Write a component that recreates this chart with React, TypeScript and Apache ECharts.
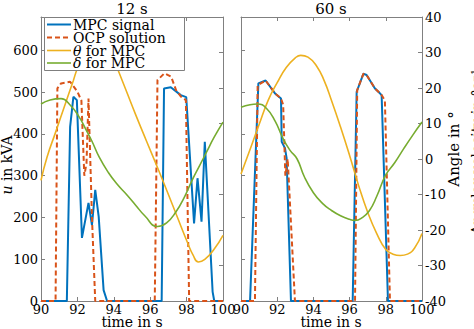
import React, { useEffect, useRef } from 'react';
import * as echarts from 'echarts';

// ---------- data ----------
const panelTitles = ['12 s', '60 s'];
const timeTicks = { min: 90, max: 100, interval: 2 };
const uTicks = { min: 0, max: 680, interval: 100 };
const angleTicks = { min: -40, max: 40, interval: 10 };

// left panel (12 s)
const leftMpcT = [90, 91.42, 91.6, 91.78, 91.97, 92.25, 92.61, 92.8, 92.98, 93.17, 93.44, 93.63, 96.63, 96.76, 97.13, 97.68, 97.98, 98.41, 98.6, 98.82, 99.0, 99.43, 99.52, 100];
const leftMpcU = [0, 0, 417, 489, 481, 151, 235, 182, 266, 202, 26, 0, 0, 509, 512, 493, 488, 186, 294, 190, 381, 22, 0, 0];
const leftOcpT = [90, 90.8, 90.9, 91.1, 91.6, 91.87, 92.0, 92.22, 92.38, 92.5, 92.61, 92.8, 92.98, 96.25, 96.4, 96.78, 97.15, 97.42, 97.7, 97.96, 98.14, 100];
const leftOcpU = [0, 0, 509, 521, 525, 509, 501, 480, 300, 330, 485, 200, 0, 0, 529, 545, 537, 505, 489, 481, 0, 0];
const leftThetaT = [90, 90.33, 90.8, 91.3, 91.77, 92.0, 92.5, 93.1, 93.7, 94.2, 94.7, 95.2, 95.8, 96.4, 97.0, 97.5, 98.07, 98.35, 98.65, 99.0, 99.5, 100];
const leftThetaA = [-6, 0.5, 7.5, 15, 22, 25.5, 31, 34, 32, 25.5, 19, 12.5, 5, -2.4, -10, -16.5, -23.8, -27, -29, -28.3, -25.5, -21.5];
const leftDeltaT = [90, 90.5, 91.1, 91.6, 92.1, 92.5, 92.8, 93.2, 93.7, 94.2, 94.7, 95.2, 95.7, 96.4, 96.9, 97.4, 97.9, 98.3, 98.7, 99.1, 99.5, 100];
const leftDeltaA = [15.5, 16.6, 17, 15.2, 11.8, 8, 5, 0.5, -3.8, -7.2, -10, -13, -16, -19, -18, -15, -10.5, -6, -2, 2, 6, 10.4];

// right panel (60 s)
const rightMpcT = [90, 90.5, 90.96, 91.36, 91.88, 92.21, 92.25, 92.43, 92.52, 92.76, 96.17, 96.39, 96.76, 96.94, 97.4, 97.59, 97.77, 98.12, 100];
const rightMpcU = [0, 0, 521, 528, 497, 485, 381, 366, 342, 0, 0, 501, 544, 541, 509, 501, 493, 0, 0];
const rightOcpT = [90, 90.77, 90.92, 91.36, 91.88, 92.21, 92.33, 92.45, 92.58, 92.98, 96.3, 96.42, 96.76, 96.94, 97.4, 97.59, 97.77, 97.95, 98.23, 100];
const rightOcpU = [0, 0, 517, 528, 497, 485, 470, 300, 340, 0, 0, 505, 544, 541, 509, 501, 493, 480, 0, 0];
const rightThetaT = [90, 90.5, 91.0, 91.5, 92.0, 92.5, 93.0, 93.3, 93.7, 94.2, 94.6, 95.0, 95.5, 96.0, 96.5, 97.0, 97.5, 98.0, 98.4, 98.8, 99.2, 99.6, 100];
const rightThetaA = [-4.2, 2.7, 9.7, 16.5, 21.5, 25.8, 28.5, 29.2, 28.7, 26, 22, 16.5, 9, 1, -7.5, -15, -21, -25.5, -26.8, -27.2, -26.8, -25, -21];
const rightDeltaT = [90, 90.5, 90.9, 91.4, 91.9, 92.3, 92.7, 93.1, 93.5, 94.0, 94.5, 95.0, 95.5, 96.0, 96.3, 96.7, 97.1, 97.5, 98.0, 98.5, 99.0, 99.5, 100];
const rightDeltaA = [14.6, 15.3, 15.5, 14.3, 10.5, 6, 2.5, 0, -5, -9.5, -12.5, -14.5, -16, -17, -17.3, -16.5, -14.5, -10.5, -4.5, -1, 3, 6.8, 10.4];

const seriesNames = ['MPC signal', 'OCP solution', 'θ for MPC', 'δ for MPC'];
const seriesColors = ['#0072BD', '#D95319', '#EDB120', '#77AC30'];

// ---------- helpers ----------
const axisColor = '#808080';
const serif = 'DejaVu Serif';
const tickLabel = { fontFamily: serif, fontSize: 13, color: '#000' };

const pairs = (T: number[], V: number[]) => T.map((t, i) => [t, V[i]]);

function xAxisDef(grid: number, position: string, showLabel: boolean) {
  return {
    type: 'value', gridIndex: grid, position, ...timeTicks,
    axisLine: { show: true, onZero: false, lineStyle: { color: axisColor, width: 1 } },
    axisTick: { show: true, inside: true, length: 4, lineStyle: { color: axisColor } },
    axisLabel: { show: showLabel, margin: 2, ...tickLabel },
    splitLine: { show: false },
  };
}
function yAxisDef(grid: number, position: string, ticks: any, showLabel: boolean) {
  return {
    type: 'value', gridIndex: grid, position, ...ticks,
    axisLine: { show: true, onZero: false, lineStyle: { color: axisColor, width: 1 } },
    axisTick: { show: true, inside: true, length: 4, lineStyle: { color: axisColor } },
    axisLabel: {
      show: showLabel, margin: 3, ...tickLabel,
      formatter: (v: number) => (Math.round(v) % ticks.interval === 0 ? String(v) : ''),
    },
    splitLine: { show: false },
  };
}
function lineSeries(idx: number, xi: number, yi: number, data: number[][], smooth: boolean) {
  const dashed = idx === 1;
  return {
    type: 'line', name: seriesNames[idx], xAxisIndex: xi, yAxisIndex: yi, data,
    symbol: 'none', smooth: smooth ? 0.5 : false, clip: true,
    lineStyle: { color: seriesColors[idx], width: idx < 2 ? 2 : 1.6, type: dashed ? [5, 3] : 'solid' },
    itemStyle: { color: seriesColors[idx] },
    z: 2 + idx,
  };
}

// legend drawn as graphic (box, line samples, labels)
function legendGraphic() {
  const left = 44, top = 17, w = 140, h = 53;
  const rowY = [24.5, 37.5, 50.5, 63];
  const els: any[] = [
    { type: 'rect', z: 100, shape: { x: left + 0.5, y: top + 0.5, width: w, height: h }, style: { fill: '#ffffff', stroke: '#7f7f7f', lineWidth: 1 } },
  ];
  seriesNames.forEach((name, i) => {
    els.push({
      type: 'line', z: 101,
      shape: { x1: 47, y1: rowY[i], x2: 71, y2: rowY[i] },
      style: { stroke: seriesColors[i], lineWidth: i < 2 ? 2 : 1.6, lineDash: i === 1 ? [5, 3] : null },
    });
    const rich = /^(θ|δ)/.test(name);
    els.push({
      type: 'text', z: 101, x: 73, y: rowY[i],
      style: {
        text: rich ? name.replace(/^(θ|δ)/, '{i|$1}') : name,
        font: `14px "${serif}"`, fill: '#000',
        textAlign: 'left', align: 'left', textVerticalAlign: 'middle', verticalAlign: 'middle',
        rich: { i: { fontFamily: serif, fontSize: 14, fontStyle: 'italic' } },
      },
    });
  });
  return els;
}

const centered = { fill: '#000', textAlign: 'center', align: 'center', textVerticalAlign: 'middle', verticalAlign: 'middle' };

export default function App() {
  const ref = useRef<HTMLDivElement>(null);
  useEffect(() => {
    if (!ref.current) return;
    const chart = echarts.init(ref.current, undefined, { renderer: 'svg' });
    const option: any = {
      animation: false,
      backgroundColor: '#ffffff',
      grid: [
        { left: 41, top: 17, width: 182, height: 284 },
        { left: 241, top: 17, width: 181, height: 284 },
      ],
      xAxis: [xAxisDef(0, 'bottom', true), xAxisDef(0, 'top', false), xAxisDef(1, 'bottom', true), xAxisDef(1, 'top', false)],
      yAxis: [yAxisDef(0, 'left', uTicks, true), yAxisDef(0, 'right', angleTicks, false), yAxisDef(1, 'left', uTicks, false), yAxisDef(1, 'right', angleTicks, true)],
      series: [
        lineSeries(0, 0, 0, pairs(leftMpcT, leftMpcU), false),
        lineSeries(1, 0, 0, pairs(leftOcpT, leftOcpU), false),
        lineSeries(2, 0, 1, pairs(leftThetaT, leftThetaA), true),
        lineSeries(3, 0, 1, pairs(leftDeltaT, leftDeltaA), true),
        lineSeries(0, 2, 2, pairs(rightMpcT, rightMpcU), false),
        lineSeries(1, 2, 2, pairs(rightOcpT, rightOcpU), false),
        lineSeries(2, 2, 3, pairs(rightThetaT, rightThetaA), true),
        lineSeries(3, 2, 3, pairs(rightDeltaT, rightDeltaA), true),
      ],
      graphic: [
        { type: 'text', x: 132, y: 9, style: { text: panelTitles[0], font: `15px "${serif}"`, ...centered } },
        { type: 'text', x: 331, y: 9, style: { text: panelTitles[1], font: `15px "${serif}"`, ...centered } },
        { type: 'text', x: 132, y: 322, style: { text: 'time in s', font: `14px "${serif}"`, ...centered } },
        { type: 'text', x: 331, y: 322, style: { text: 'time in s', font: `14px "${serif}"`, ...centered } },
        { type: 'text', x: 7, y: 165, rotation: Math.PI / 2, style: { text: '{i|u} in kVA', font: `14px "${serif}"`, ...centered, rich: { i: { fontFamily: serif, fontSize: 14, fontStyle: 'italic' } } } },
        { type: 'text', x: 454, y: 149, rotation: Math.PI / 2, style: { text: 'Angle in °', font: `15px "${serif}"`, ...centered } },
        { type: 'text', x: 477, y: 152, rotation: Math.PI / 2, style: { text: 'Angular velocity in °s⁻¹', font: `14px "${serif}"`, ...centered } },
        ...legendGraphic(),
      ],
    };
    chart.setOption(option);
    return () => chart.dispose();
  }, []);
  return <div ref={ref} style={{ position: 'absolute', left: 0, top: 0, width: 474, height: 329 }} />;
}
